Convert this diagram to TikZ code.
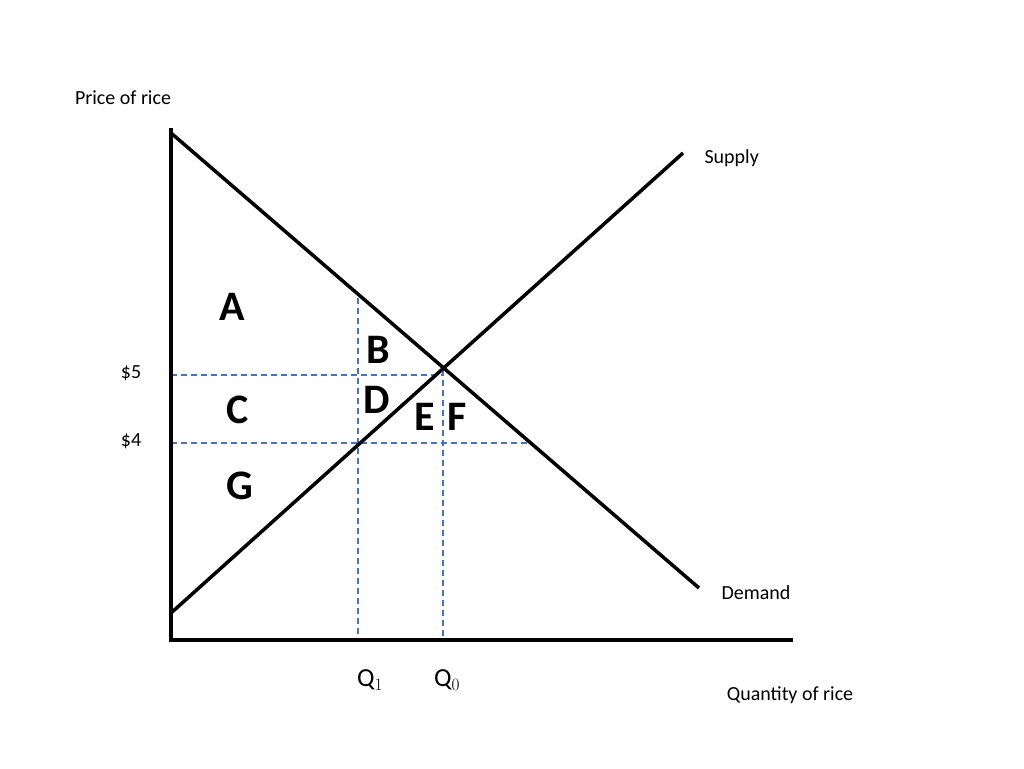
\documentclass[tikz,border=0pt]{standalone}
\usepackage{fontspec}
\setmainfont{Carlito}
\definecolor{dblue}{RGB}{68,114,196}
\begin{document}
\begin{tikzpicture}[x=1pt,y=-1pt,
  curve/.style={line width=3.5pt},
  guide/.style={dblue,line width=1.6pt,dash pattern=on 6pt off 4pt},
  lab/.style={font=\fontsize{20}{24}\selectfont},
  area/.style={font=\fontsize{42}{48}\selectfont\bfseries}]
\useasboundingbox (0,0) rectangle (1024,768);
\coordinate (ytop) at (171,128);
\coordinate (o) at (171,640);
\coordinate (xend) at (793,640);
\coordinate (d0) at (171,133);
\coordinate (d1) at (699,588);
\coordinate (s0) at (171,613);
\coordinate (s1) at (683,153);
\coordinate (eq) at (443,370);
\coordinate (p5) at (171,375);
\coordinate (p5e) at (443,375);
\coordinate (p4) at (171,443);
\coordinate (p4e) at (530,443);
\coordinate (q1t) at (358,298);
\coordinate (q1b) at (358,640);
\coordinate (q0b) at (443,640);
\draw[guide] (p5) -- (p5e);
\draw[guide] (p4) -- (p4e);
\draw[guide] (q1t) -- (q1b);
\draw[guide] (eq) -- (q0b);
\draw[curve] (ytop) -- (o) -- (xend);
\draw[curve] (d0) -- (d1);
\draw[curve] (s0) -- (s1);
\node[lab] (py) at (123,98) {Price of rice};
\node[lab,anchor=west] (sl) at (701,158) {Supply};
\node[lab,anchor=west] (dl) at (718,593) {Demand};
\node[lab] (qx) at (790,695) {Quantity of rice};
\node[lab] (l5) at (131,373) {\$5};
\node[lab] (l4) at (131,441) {\$4};
\node[font=\fontsize{26}{30}\selectfont] (lq1) at (370,680) {Q$_1$};
\node[font=\fontsize{26}{30}\selectfont] (lq0) at (447,680) {Q$_0$};
\node[area] (A) at (232,307) {A};
\node[area] (B) at (378,350) {B};
\node[area] (C) at (238,410) {C};
\node[area] (D) at (377,400) {D};
\node[area] (E) at (425,417) {E};
\node[area] (F) at (457,417) {F};
\node[area] (G) at (240,486) {G};
\end{tikzpicture}
\end{document}
